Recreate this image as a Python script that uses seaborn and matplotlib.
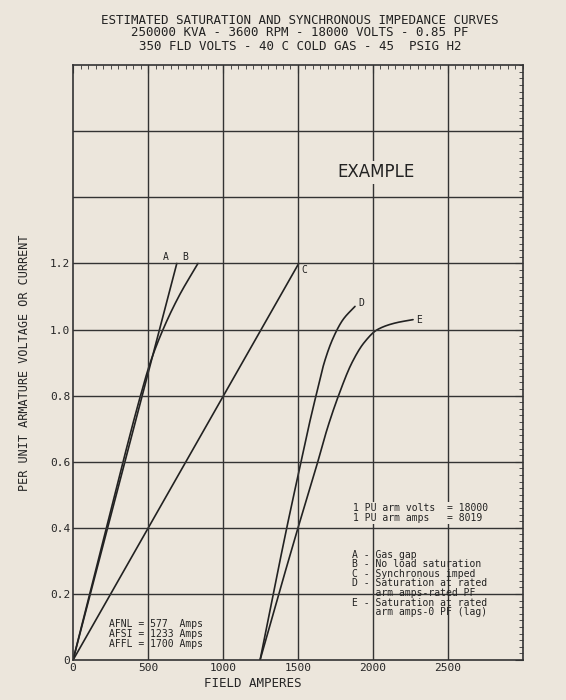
import numpy as np
import matplotlib
matplotlib.use("Agg")
import matplotlib.pyplot as plt
import seaborn as sns
from matplotlib.ticker import MultipleLocator

sns.set_style("white")
plt.rcParams['font.family'] = ['DejaVu Sans Mono', 'DejaVu Sans']

a_x = [0, 692]; a_y = [0, 1.2]
b_x = [0, 250, 450, 515, 600, 705, 833]; b_y = [0, 0.45, 0.8, 0.9, 1.0, 1.1, 1.2]
c_x = [0, 1505]; c_y = [0, 1.2]
d_x = [1247, 1335, 1425, 1520, 1568, 1620, 1675, 1730, 1800, 1880]
d_y = [0, 0.2, 0.4, 0.6, 0.7, 0.8, 0.9, 0.97, 1.03, 1.07]
e_x = [1247, 1372, 1500, 1632, 1695, 1770, 1860, 1940, 2030, 2150, 2267]
e_y = [0, 0.2, 0.4, 0.6, 0.7, 0.8, 0.9, 0.96, 1.0, 1.02, 1.03]
curves = {"A": (a_x, a_y), "B": (b_x, b_y), "C": (c_x, c_y), "D": (d_x, d_y), "E": (e_x, e_y)}
xticks = [0, 500, 1000, 1500, 2000, 2500]
yticks = [0, 0.2, 0.4, 0.6, 0.8, 1.0, 1.2]


def pchip(xs, ys, n=300):
    x = np.asarray(xs, float); y = np.asarray(ys, float)
    h = np.diff(x); d = np.diff(y) / h
    m = np.zeros_like(y)
    for i in range(1, len(x) - 1):
        if d[i - 1] * d[i] > 0:
            w1 = 2 * h[i] + h[i - 1]; w2 = h[i] + 2 * h[i - 1]
            m[i] = (w1 + w2) / (w1 / d[i - 1] + w2 / d[i])
    m[0] = d[0]; m[-1] = d[-1]
    xx = np.linspace(x[0], x[-1], n)
    idx = np.clip(np.searchsorted(x, xx) - 1, 0, len(h) - 1)
    t = (xx - x[idx]) / h[idx]
    h00 = 2 * t**3 - 3 * t**2 + 1; h10 = t**3 - 2 * t**2 + t
    h01 = -2 * t**3 + 3 * t**2; h11 = t**3 - t**2
    yy = h00 * y[idx] + h10 * h[idx] * m[idx] + h01 * y[idx + 1] + h11 * h[idx] * m[idx + 1]
    return xx, yy


bg = "#ece6dc"
fig = plt.figure(figsize=(5.66, 7), dpi=100, facecolor=bg)
ax = fig.add_axes([0.129, 0.057, 0.795, 0.85], facecolor=bg)

for k, (xs, ys) in curves.items():
    xx, yy = pchip(xs, ys) if len(xs) > 2 else (xs, ys)
    sns.lineplot(x=xx, y=yy, ax=ax, color="#222", lw=1.2, sort=False, estimator=None)

labels = {"A": (600, 1.21), "B": (730, 1.21), "C": (1525, 1.17), "D": (1900, 1.07), "E": (2290, 1.02)}
for k, (x, y) in labels.items():
    ax.text(x, y, k, fontsize=7, color="#222")

ax.set_xlim(0, 3000)
ax.set_ylim(0, 1.8)
ax.set_xticks(xticks)
ax.set_xticklabels([str(t) for t in xticks], fontsize=8)
ax.set_yticks(yticks)
ax.set_yticklabels(["0", "0.2", "0.4", "0.6", "0.8", "1.0", "1.2"], fontsize=8)
ax.xaxis.set_minor_locator(MultipleLocator(50))
ax.yaxis.set_minor_locator(MultipleLocator(0.02))
ax.tick_params(which="both", direction="in", top=True, right=True, color="#333")
ax.tick_params(which="major", length=6, pad=2)
ax.tick_params(which="minor", length=3)
for x in [500, 1000, 1500, 2000, 2500]:
    ax.axvline(x, color="#333", lw=1)
for y in np.arange(0.2, 1.8, 0.2):
    ax.axhline(y, color="#333", lw=1)
for s in ax.spines.values():
    s.set_color("#333"); s.set_linewidth(1.2)

ax.set_xlabel("FIELD AMPERES", fontsize=9, labelpad=-3)
ax.xaxis.set_label_coords(0.4, -0.028)
ax.set_ylabel("PER UNIT ARMATURE VOLTAGE OR CURRENT", fontsize=8.5, labelpad=14)
ax.text(2020, 1.46, "EXAMPLE", fontsize=12, family="DejaVu Sans", ha="center", color="#222",
        bbox=dict(facecolor=bg, edgecolor="none", pad=2))

ax.text(1870, 0.415, "1 PU arm volts  = 18000\n1 PU arm amps   = 8019", fontsize=7, va="bottom",
        linespacing=0.95, color="#222", bbox=dict(facecolor=bg, edgecolor="none", pad=1))
ax.text(1860, 0.13, "A - Gas gap\nB - No load saturation\nC - Synchronous imped\nD - Saturation at rated\n    arm amps-rated PF\nE - Saturation at rated\n    arm amps-0 PF (lag)",
        fontsize=7, va="bottom", linespacing=0.95, color="#222")
ax.text(240, 0.035, "AFNL = 577  Amps\nAFSI = 1233 Amps\nAFFL = 1700 Amps", fontsize=7, va="bottom",
        linespacing=0.95, color="#222")

fig.text(0.53, 0.925, "ESTIMATED SATURATION AND SYNCHRONOUS IMPEDANCE CURVES\n250000 KVA - 3600 RPM - 18000 VOLTS - 0.85 PF\n350 FLD VOLTS - 40 C COLD GAS - 45  PSIG H2",
         ha="center", va="bottom", fontsize=9, linespacing=1.0, color="#222")

fig.savefig("out.png", dpi=100, facecolor=bg)
